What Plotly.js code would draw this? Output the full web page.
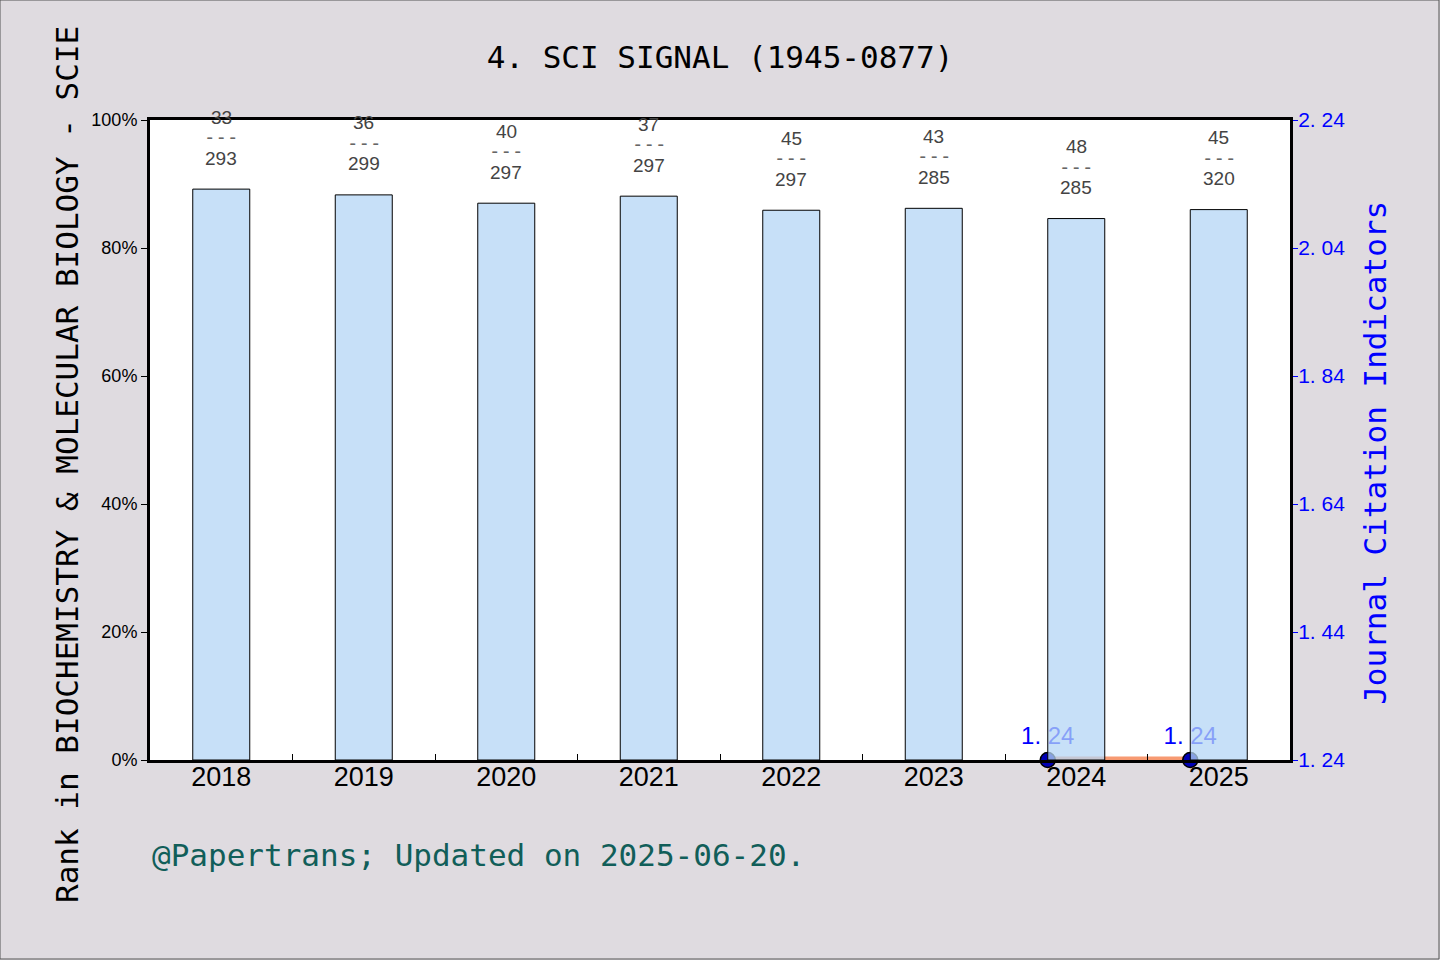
<!DOCTYPE html>
<html>
<head>
<meta charset="utf-8">
<script src="https://cdn.plot.ly/plotly-3.0.1.min.js"></script>
<style>
  html, body { margin: 0; padding: 0; background: #dfdbe0; }
  #chart { width: 1440px; height: 960px; }
</style>
</head>
<body>
<div id="chart"></div>
<script>
// ---- data ----
const years = ['2018', '2019', '2020', '2021', '2022', '2023', '2024', '2025'];
const rankPct = [0.892, 0.883, 0.870, 0.881, 0.859, 0.862, 0.846, 0.860];
const ranks = [33, 36, 40, 37, 45, 43, 48, 45];
const totals = [293, 299, 297, 297, 297, 285, 285, 320];
const jciYears = ['2024', '2025'];
const jciValues = [1.24, 1.24];
const jciTickVals = [1.24, 1.44, 1.64, 1.84, 2.04, 2.24];
const pctTickVals = [0, 0.2, 0.4, 0.6, 0.8, 1.0];
const titleText = '4. SCI SIGNAL (1945-0877)';
const leftTitle = 'Rank in BIOCHEMISTRY & MOLECULAR BIOLOGY - SCIE';
const rightTitle = 'Journal Citation Indicators';
const footerText = '@Papertrans; Updated on 2025-06-20.';

// ---- styling ----
const mono = 'DejaVu Sans Mono, monospace';
const sans = 'Liberation Sans, Arial, sans-serif';
const idx = years.map((_, i) => i);
const lineShift = -0.2;
const fmtJci = v => v.toFixed(2).replace('.', '. ');

const lineX = jciYears.map(y => years.indexOf(y) + lineShift);

const jciTrace = {
  type: 'scatter',
  mode: 'lines+markers+text',
  x: lineX,
  y: jciValues,
  xaxis: 'x',
  yaxis: 'y',
  text: jciValues.map(fmtJci),
  textposition: 'top center',
  textfont: { family: sans, size: 24, color: '#0000ff' },
  line: { color: '#f79a72', width: 7 },
  marker: { size: 15, color: '#0000b4', line: { color: '#000000', width: 1.5 } },
  cliponaxis: false,
  hoverinfo: 'skip',
  showlegend: false
};

const barTrace = {
  type: 'bar',
  x: idx,
  y: rankPct,
  width: 0.4,
  xaxis: 'x',
  yaxis: 'y2',
  marker: { color: 'rgba(180,213,245,0.75)', line: { color: '#000000', width: 1 } },
  hoverinfo: 'skip',
  showlegend: false
};

const annotations = [];
idx.forEach(i => {
  const common = { x: i, y: rankPct[i], xref: 'x', yref: 'y2', showarrow: false,
                   xanchor: 'center', yanchor: 'middle' };
  annotations.push(Object.assign({}, common, { text: String(ranks[i]), yshift: 72,
                   font: { family: sans, size: 19, color: '#444444' } }));
  annotations.push(Object.assign({}, common, { text: '---', yshift: 52,
                   font: { family: mono, size: 19, color: '#666666' } }));
  annotations.push(Object.assign({}, common, { text: String(totals[i]), yshift: 31,
                   font: { family: sans, size: 19, color: '#444444' } }));
});

// axis titles & footer as annotations
annotations.push({
  text: leftTitle, xref: 'paper', yref: 'paper', x: 0, y: 0.461, xshift: -83,
  xanchor: 'center', yanchor: 'middle', textangle: -90, showarrow: false,
  font: { family: mono, size: 31, color: '#000000' }
});
annotations.push({
  text: rightTitle, xref: 'paper', yref: 'paper', x: 1, y: 0.48, xshift: 85,
  xanchor: 'center', yanchor: 'middle', textangle: -90, showarrow: false,
  font: { family: mono, size: 31, color: '#0000ff' }
});
annotations.push({
  text: footerText, xref: 'paper', yref: 'paper', x: 0, y: -0.148,
  xanchor: 'left', yanchor: 'middle', showarrow: false,
  font: { family: mono, size: 31, color: '#115e59' }
});

const layout = {
  width: 1440,
  height: 960,
  margin: { l: 150, r: 150, t: 120, b: 200, pad: 0 },
  paper_bgcolor: '#dfdbe0',
  plot_bgcolor: '#ffffff',
  title: {
    text: titleText,
    font: { family: mono, size: 31, color: '#000000' },
    x: 0.5, xref: 'paper', xanchor: 'center',
    y: 1 - 57 / 960, yref: 'container', yanchor: 'middle'
  },
  xaxis: {
    range: [-0.5, 7.5],
    tickvals: idx,
    ticktext: years,
    ticks: '',
    ticklabelstandoff: -9,
    showgrid: false,
    zeroline: false,
    showline: true,
    linewidth: 3,
    linecolor: '#000000',
    mirror: true,
    tickfont: { family: sans, size: 27, color: '#000000' },
    minor: { tickvals: idx.slice(0, -1).map(i => i + 0.5), ticks: 'inside', ticklen: 6,
             tickcolor: '#000000', tickwidth: 1, showgrid: false },
    fixedrange: true
  },
  yaxis: {
    range: [1.24, 2.24],
    side: 'right',
    anchor: 'x',
    tickvals: jciTickVals,
    ticktext: jciTickVals.map(fmtJci),
    ticks: 'outside',
    ticklen: 5,
    tickcolor: '#0000ff',
    ticklabelstandoff: -4,
    tickfont: { family: sans, size: 21, color: '#0000ff' },
    showgrid: false,
    zeroline: false,
    showline: true,
    linewidth: 3,
    linecolor: '#000000',
    fixedrange: true
  },
  yaxis2: {
    range: [0, 1],
    side: 'left',
    overlaying: 'y',
    anchor: 'x',
    tickvals: pctTickVals,
    tickformat: '.0%',
    ticks: 'outside',
    ticklen: 6,
    tickcolor: '#000000',
    tickfont: { family: sans, size: 18, color: '#000000' },
    showgrid: false,
    zeroline: false,
    showline: true,
    linewidth: 3,
    linecolor: '#000000',
    fixedrange: true
  },
  annotations: annotations,
  shapes: [{
    type: 'rect', xref: 'paper', yref: 'paper',
    x0: -150 / 1140, x1: 1 + 149 / 1140, y0: -199 / 640, y1: 1 + 120 / 640,
    line: { color: '#555555', width: 1 }, fillcolor: 'rgba(0,0,0,0)', layer: 'below'
  }],
  showlegend: false
};

Plotly.newPlot('chart', [jciTrace, barTrace], layout, { displayModeBar: false, staticPlot: true });
</script>
</body>
</html>
